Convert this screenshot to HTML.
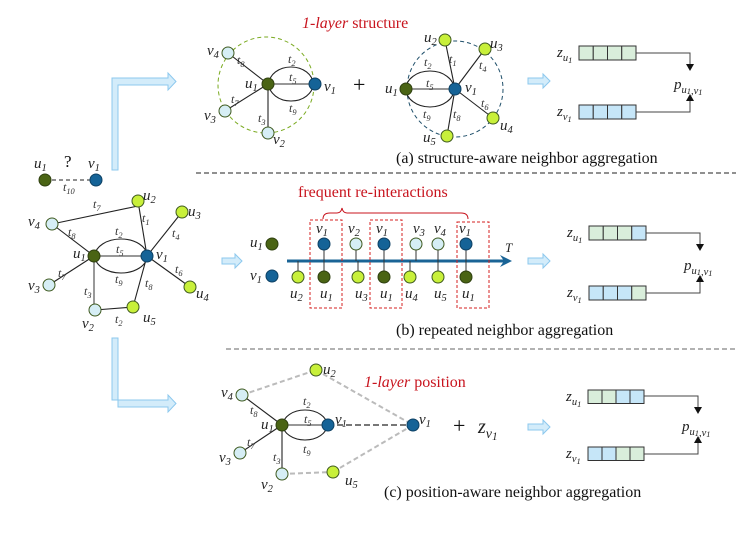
<!DOCTYPE html>
<html><head><meta charset="utf-8"><style>
html,body{margin:0;padding:0;background:#fff}
svg{display:block}
.l{font-family:"Liberation Serif",serif;font-style:italic;font-size:15px;fill:#222}
.t{font-family:"Liberation Serif",serif;font-style:italic;font-size:12px;fill:#333}
.s{font-size:70%}
.cap{font-family:"Liberation Serif",serif;font-size:16px;fill:#111}
.red{font-family:"Liberation Serif",serif;font-size:16px;fill:#c8141e}
.dg{fill:#4a6414;stroke:#2f4010;stroke-width:1}
.bl{fill:#156397;stroke:#0d4063;stroke-width:1}
.lb{fill:#d6eef5;stroke:#3f5a20;stroke-width:1}
.lm{fill:#c8f03a;stroke:#3f5a20;stroke-width:1}
.e{stroke:#222;stroke-width:1.1;fill:none}
.g{stroke:#777;stroke-width:1.5;fill:none}
.gd{stroke:#bbb;stroke-width:2;stroke-dasharray:5,3;fill:none}
.arr{fill:#d3ecfa;stroke:#8cc8ee;stroke-width:1}
.cg{fill:#d9eedb;stroke:#333;stroke-width:1}
.cb{fill:#c6e6f8;stroke:#333;stroke-width:1}
</style></head><body>
<svg width="743" height="541" viewBox="0 0 743 541" xmlns="http://www.w3.org/2000/svg">
<!-- L arrows -->
<path class="arr" d="M112,170 L112,78 L168,78 L168,73 L176,81.5 L168,90 L168,85 L118,85 L118,170 Z"/>
<path class="arr" d="M112,345 L112,407 L168,407 L168,402 L176,410.5 L168,419 L168,414 L118,414 L118,345 Z" transform="translate(0,-7)"/>
<!-- small arrows -->
<path class="arr" d="M528,78 L543,78 L543,74 L550,81 L543,88 L543,84 L528,84 Z"/>
<path class="arr" d="M528,258 L543,258 L543,254 L550,261 L543,268 L543,264 L528,264 Z"/>
<path class="arr" d="M528,424 L543,424 L543,420 L550,427 L543,434 L543,430 L528,430 Z"/>
<path class="arr" d="M222,258 L235,258 L235,254 L242,261 L235,268 L235,264 L222,264 Z"/>
<!-- separators -->
<line x1="196" y1="173" x2="736" y2="173" stroke="#222" stroke-dasharray="5,3"/>
<line x1="226" y1="349" x2="736" y2="349" stroke="#666" stroke-dasharray="5,3"/>

<!-- left query -->
<line x1="45" y1="180" x2="96" y2="180" stroke="#222" stroke-dasharray="4,3"/>
<circle class="dg" cx="45" cy="180" r="6"/><circle class="bl" cx="96" cy="180" r="6"/>
<text class="l" x="34" y="168">u<tspan class="s" dy="3">1</tspan></text>
<text class="l" x="88" y="168">ν<tspan class="s" dy="3">1</tspan></text>
<text class="cap" x="64" y="167" style="font-size:17px">?</text>
<text class="t" x="63" y="191">t<tspan class="s" dy="3">10</tspan></text>

<!-- left main graph -->
<line class="e" x1="52" y1="224" x2="138" y2="206"/>
<line class="e" x1="138" y1="201" x2="147" y2="256"/>
<line class="e" x1="182" y1="212" x2="147" y2="256"/>
<line class="e" x1="190" y1="287" x2="147" y2="256"/>
<line class="e" x1="133" y1="307" x2="147" y2="256"/>
<line class="e" x1="52" y1="224" x2="94" y2="256"/>
<line class="e" x1="49" y1="285" x2="94" y2="256"/>
<line class="g" x1="94" y1="256" x2="94" y2="310"/>
<line class="e" x1="95" y1="310" x2="133" y2="307"/>
<line class="g" x1="94" y1="256" x2="147" y2="256"/>
<ellipse class="e" cx="121" cy="256" rx="26" ry="17"/>
<circle class="lm" cx="138" cy="201" r="6"/><circle class="lm" cx="182" cy="212" r="6"/>
<circle class="lb" cx="52" cy="224" r="6"/><circle class="dg" cx="94" cy="256" r="6"/>
<circle class="bl" cx="147" cy="256" r="6"/><circle class="lb" cx="49" cy="285" r="6"/>
<circle class="lm" cx="190" cy="287" r="6"/><circle class="lb" cx="95" cy="310" r="6"/>
<circle class="lm" cx="133" cy="307" r="6"/>
<text class="l" x="143" y="200">u<tspan class="s" dy="3">2</tspan></text>
<text class="l" x="188" y="216">u<tspan class="s" dy="3">3</tspan></text>
<text class="l" x="28" y="226">ν<tspan class="s" dy="3">4</tspan></text>
<text class="l" x="73" y="258">u<tspan class="s" dy="3">1</tspan></text>
<text class="l" x="156" y="259">ν<tspan class="s" dy="3">1</tspan></text>
<text class="l" x="28" y="290">ν<tspan class="s" dy="3">3</tspan></text>
<text class="l" x="196" y="298">u<tspan class="s" dy="3">4</tspan></text>
<text class="l" x="82" y="328">ν<tspan class="s" dy="3">2</tspan></text>
<text class="l" x="143" y="322">u<tspan class="s" dy="3">5</tspan></text>
<text class="t" x="93" y="208">t<tspan class="s" dy="3">7</tspan></text>
<text class="t" x="68" y="236">t<tspan class="s" dy="3">8</tspan></text>
<text class="t" x="142" y="222">t<tspan class="s" dy="3">1</tspan></text>
<text class="t" x="172" y="237">t<tspan class="s" dy="3">4</tspan></text>
<text class="t" x="115" y="235">t<tspan class="s" dy="3">2</tspan></text>
<text class="t" x="116" y="253">t<tspan class="s" dy="3">5</tspan></text>
<text class="t" x="115" y="283">t<tspan class="s" dy="3">9</tspan></text>
<text class="t" x="58" y="277">t<tspan class="s" dy="3">7</tspan></text>
<text class="t" x="175" y="273">t<tspan class="s" dy="3">6</tspan></text>
<text class="t" x="145" y="287">t<tspan class="s" dy="3">8</tspan></text>
<text class="t" x="84" y="295">t<tspan class="s" dy="3">3</tspan></text>
<text class="t" x="115" y="323">t<tspan class="s" dy="3">2</tspan></text>

<!-- (a) structure -->
<text class="red" x="302" y="28"><tspan font-style="italic">1-layer</tspan> structure</text>
<circle cx="266" cy="85" r="48" fill="none" stroke="#7aaa20" stroke-dasharray="4,3"/>
<line class="e" x1="228" y1="53" x2="268" y2="84"/>
<line class="e" x1="225" y1="111" x2="268" y2="84"/>
<line class="e" x1="268" y1="84" x2="268" y2="133"/>
<line class="g" x1="268" y1="84" x2="315" y2="84"/>
<ellipse class="e" cx="291" cy="84" rx="22" ry="17"/>
<circle class="lb" cx="228" cy="53" r="6"/><circle class="lb" cx="225" cy="111" r="6"/>
<circle class="lb" cx="268" cy="133" r="6"/><circle class="dg" cx="268" cy="84" r="6"/>
<circle class="bl" cx="315" cy="84" r="6"/>
<text class="l" x="207" y="55">ν<tspan class="s" dy="3">4</tspan></text>
<text class="l" x="245" y="88">u<tspan class="s" dy="3">1</tspan></text>
<text class="l" x="324" y="91">ν<tspan class="s" dy="3">1</tspan></text>
<text class="l" x="204" y="120">ν<tspan class="s" dy="3">3</tspan></text>
<text class="l" x="273" y="144">ν<tspan class="s" dy="3">2</tspan></text>
<text class="t" x="237" y="64">t<tspan class="s" dy="3">8</tspan></text>
<text class="t" x="231" y="103">t<tspan class="s" dy="3">7</tspan></text>
<text class="t" x="258" y="122">t<tspan class="s" dy="3">3</tspan></text>
<text class="t" x="288" y="63">t<tspan class="s" dy="3">2</tspan></text>
<text class="t" x="289" y="81">t<tspan class="s" dy="3">5</tspan></text>
<text class="t" x="289" y="112">t<tspan class="s" dy="3">9</tspan></text>
<text class="cap" x="353" y="92" style="font-size:22px">+</text>

<circle cx="455" cy="89" r="48" fill="none" stroke="#1f4f6a" stroke-dasharray="4,3"/>
<line class="e" x1="445" y1="40" x2="455" y2="89"/>
<line class="e" x1="485" y1="49" x2="455" y2="89"/>
<line class="e" x1="493" y1="118" x2="455" y2="89"/>
<line class="e" x1="447" y1="136" x2="455" y2="89"/>
<line class="g" x1="406" y1="89" x2="455" y2="89"/>
<ellipse class="e" cx="430" cy="89" rx="24" ry="18"/>
<circle class="lm" cx="445" cy="40" r="6"/><circle class="lm" cx="485" cy="49" r="6"/>
<circle class="lm" cx="493" cy="118" r="6"/><circle class="lm" cx="447" cy="136" r="6"/>
<circle class="dg" cx="406" cy="89" r="6"/><circle class="bl" cx="455" cy="89" r="6"/>
<text class="l" x="424" y="42">u<tspan class="s" dy="3">2</tspan></text>
<text class="l" x="490" y="48">u<tspan class="s" dy="3">3</tspan></text>
<text class="l" x="385" y="93">u<tspan class="s" dy="3">1</tspan></text>
<text class="l" x="465" y="92">ν<tspan class="s" dy="3">1</tspan></text>
<text class="l" x="500" y="130">u<tspan class="s" dy="3">4</tspan></text>
<text class="l" x="423" y="142">u<tspan class="s" dy="3">5</tspan></text>
<text class="t" x="449" y="63">t<tspan class="s" dy="3">1</tspan></text>
<text class="t" x="479" y="69">t<tspan class="s" dy="3">4</tspan></text>
<text class="t" x="424" y="66">t<tspan class="s" dy="3">2</tspan></text>
<text class="t" x="426" y="87">t<tspan class="s" dy="3">5</tspan></text>
<text class="t" x="423" y="118">t<tspan class="s" dy="3">9</tspan></text>
<text class="t" x="481" y="107">t<tspan class="s" dy="3">6</tspan></text>
<text class="t" x="453" y="118">t<tspan class="s" dy="3">8</tspan></text>

<!-- embeddings (a) -->
<text class="l" x="557" y="57">z<tspan class="s" dy="4">u<tspan dy="2" font-size="80%">1</tspan></tspan></text>
<rect class="cg" x="579" y="46" width="14.25" height="14"/><rect class="cg" x="593.25" y="46" width="14.25" height="14"/><rect class="cg" x="607.5" y="46" width="14.25" height="14"/><rect class="cg" x="621.75" y="46" width="14.25" height="14"/>
<text class="l" x="557" y="116">z<tspan class="s" dy="4">ν<tspan dy="2" font-size="80%">1</tspan></tspan></text>
<rect class="cb" x="579" y="105" width="14.25" height="14"/><rect class="cb" x="593.25" y="105" width="14.25" height="14"/><rect class="cb" x="607.5" y="105" width="14.25" height="14"/><rect class="cb" x="621.75" y="105" width="14.25" height="14"/>
<path d="M636,53 H690 V64" stroke="#444" fill="none"/><path d="M686,64 L694,64 L690,71 Z" fill="#111"/>
<path d="M636,112 H690 V101" stroke="#444" fill="none"/><path d="M686,101 L694,101 L690,94 Z" fill="#111"/>
<text class="l" x="674" y="89">p<tspan class="s" dy="4">u<tspan font-size="80%" dy="1">1</tspan>,ν<tspan font-size="80%" dy="1">1</tspan></tspan></text>
<text class="cap" x="396" y="163">(a) structure-aware neighbor aggregation</text>

<!-- (b) timeline -->
<text class="red" x="298" y="197">frequent re-interactions</text>
<path d="M323,219 Q323,213 330,213 L337,213 Q341,213 342,208 Q343,213 347,213 L461,213 Q468,213 468,219" stroke="#c8141e" fill="none"/>
<line x1="287" y1="261" x2="505" y2="261" stroke="#1a6496" stroke-width="3"/>
<path d="M500,255 L512,261 L500,267 L504,261 Z" fill="#1a6496"/>
<text class="l" x="505" y="252" style="font-size:13px">T</text>
<g stroke="#333" stroke-width="1">
<line x1="298" y1="261" x2="298" y2="277"/><line x1="324" y1="244" x2="324" y2="277"/><line x1="356" y1="244" x2="356" y2="261"/><line x1="358" y1="261" x2="358" y2="277"/><line x1="384" y1="244" x2="384" y2="277"/><line x1="416" y1="244" x2="416" y2="261"/><line x1="410" y1="261" x2="410" y2="277"/><line x1="438" y1="244" x2="438" y2="277"/><line x1="466" y1="244" x2="466" y2="277"/>
</g>
<circle class="dg" cx="272" cy="244" r="6"/><circle class="bl" cx="272" cy="276" r="6"/>
<text class="l" x="250" y="247">u<tspan class="s" dy="3">1</tspan></text>
<text class="l" x="250" y="280">ν<tspan class="s" dy="3">1</tspan></text>
<circle class="bl" cx="324" cy="244" r="6"/><circle class="lb" cx="356" cy="244" r="6"/><circle class="bl" cx="384" cy="244" r="6"/><circle class="lb" cx="416" cy="244" r="6"/><circle class="lb" cx="438" cy="244" r="6"/><circle class="bl" cx="466" cy="244" r="6"/>
<circle class="lm" cx="298" cy="277" r="6"/><circle class="dg" cx="324" cy="277" r="6"/><circle class="lm" cx="358" cy="277" r="6"/><circle class="dg" cx="384" cy="277" r="6"/><circle class="lm" cx="410" cy="277" r="6"/><circle class="lm" cx="438" cy="277" r="6"/><circle class="dg" cx="466" cy="277" r="6"/>
<text class="l" x="316" y="233">ν<tspan class="s" dy="3">1</tspan></text>
<text class="l" x="348" y="233">ν<tspan class="s" dy="3">2</tspan></text>
<text class="l" x="376" y="233">ν<tspan class="s" dy="3">1</tspan></text>
<text class="l" x="413" y="233">ν<tspan class="s" dy="3">3</tspan></text>
<text class="l" x="434" y="233">ν<tspan class="s" dy="3">4</tspan></text>
<text class="l" x="459" y="233">ν<tspan class="s" dy="3">1</tspan></text>
<text class="l" x="290" y="298">u<tspan class="s" dy="3">2</tspan></text>
<text class="l" x="320" y="298">u<tspan class="s" dy="3">1</tspan></text>
<text class="l" x="355" y="298">u<tspan class="s" dy="3">3</tspan></text>
<text class="l" x="380" y="298">u<tspan class="s" dy="3">1</tspan></text>
<text class="l" x="405" y="298">u<tspan class="s" dy="3">4</tspan></text>
<text class="l" x="434" y="298">u<tspan class="s" dy="3">5</tspan></text>
<text class="l" x="462" y="298">u<tspan class="s" dy="3">1</tspan></text>
<g fill="none" stroke="#d42020" stroke-dasharray="3,2">
<rect x="310" y="220" width="32" height="88"/><rect x="370" y="220" width="32" height="88"/><rect x="457" y="222" width="32" height="86"/>
</g>
<!-- embeddings (b) -->
<text class="l" x="567" y="237">z<tspan class="s" dy="4">u<tspan dy="2" font-size="80%">1</tspan></tspan></text>
<rect class="cg" x="589" y="226" width="14.25" height="14"/><rect class="cg" x="603.25" y="226" width="14.25" height="14"/><rect class="cg" x="617.5" y="226" width="14.25" height="14"/><rect class="cb" x="631.75" y="226" width="14.25" height="14"/>
<text class="l" x="567" y="297">z<tspan class="s" dy="4">ν<tspan dy="2" font-size="80%">1</tspan></tspan></text>
<rect class="cb" x="589" y="286" width="14.25" height="14"/><rect class="cb" x="603.25" y="286" width="14.25" height="14"/><rect class="cb" x="617.5" y="286" width="14.25" height="14"/><rect class="cg" x="631.75" y="286" width="14.25" height="14"/>
<path d="M646,233 H700 V244" stroke="#444" fill="none"/><path d="M696,244 L704,244 L700,251 Z" fill="#111"/>
<path d="M646,293 H700 V282" stroke="#444" fill="none"/><path d="M696,282 L704,282 L700,275 Z" fill="#111"/>
<text class="l" x="684" y="270">p<tspan class="s" dy="4">u<tspan font-size="80%" dy="1">1</tspan>,ν<tspan font-size="80%" dy="1">1</tspan></tspan></text>
<text class="cap" x="396" y="335">(b) repeated neighbor aggregation</text>

<!-- (c) position -->
<text class="red" x="364" y="387"><tspan font-style="italic">1-layer</tspan> position</text>
<line class="gd" x1="242" y1="395" x2="316" y2="370"/>
<line class="gd" x1="316" y1="370" x2="413" y2="425"/>
<line class="gd" x1="282" y1="474" x2="333" y2="472"/>
<line class="gd" x1="333" y1="472" x2="413" y2="425"/>
<line x1="328" y1="425" x2="413" y2="425" stroke="#777" stroke-width="2" stroke-dasharray="6,3"/>
<line class="e" x1="242" y1="395" x2="282" y2="425"/>
<line class="e" x1="240" y1="453" x2="282" y2="425"/>
<line class="e" x1="282" y1="425" x2="282" y2="474"/>
<line class="g" x1="282" y1="425" x2="328" y2="425"/>
<ellipse class="e" cx="305" cy="425" rx="22" ry="15"/>
<circle class="lm" cx="316" cy="370" r="6"/><circle class="lb" cx="242" cy="395" r="6"/>
<circle class="dg" cx="282" cy="425" r="6"/><circle class="bl" cx="328" cy="425" r="6"/>
<circle class="lb" cx="240" cy="453" r="6"/><circle class="lb" cx="282" cy="474" r="6"/>
<circle class="lm" cx="333" cy="472" r="6"/><circle class="bl" cx="413" cy="425" r="6"/>
<text class="l" x="323" y="374">u<tspan class="s" dy="3">2</tspan></text>
<text class="l" x="221" y="397">ν<tspan class="s" dy="3">4</tspan></text>
<text class="l" x="261" y="429">u<tspan class="s" dy="3">1</tspan></text>
<text class="l" x="335" y="424">ν<tspan class="s" dy="3">1</tspan></text>
<text class="l" x="419" y="424">ν<tspan class="s" dy="3">1</tspan></text>
<text class="l" x="219" y="462">ν<tspan class="s" dy="3">3</tspan></text>
<text class="l" x="261" y="489">ν<tspan class="s" dy="3">2</tspan></text>
<text class="l" x="345" y="485">u<tspan class="s" dy="3">5</tspan></text>
<text class="t" x="250" y="414">t<tspan class="s" dy="3">8</tspan></text>
<text class="t" x="247" y="446">t<tspan class="s" dy="3">7</tspan></text>
<text class="t" x="273" y="461">t<tspan class="s" dy="3">3</tspan></text>
<text class="t" x="303" y="405">t<tspan class="s" dy="3">2</tspan></text>
<text class="t" x="304" y="423">t<tspan class="s" dy="3">5</tspan></text>
<text class="t" x="303" y="453">t<tspan class="s" dy="3">9</tspan></text>
<text class="cap" x="453" y="433" style="font-size:22px">+</text>
<text class="l" x="478" y="433" style="font-size:20px">z<tspan class="s" dy="5">ν<tspan dy="2" font-size="80%">1</tspan></tspan></text>
<!-- embeddings (c) -->
<text class="l" x="566" y="401">z<tspan class="s" dy="4">u<tspan dy="2" font-size="80%">1</tspan></tspan></text>
<rect class="cg" x="588" y="390" width="14" height="13.5"/><rect class="cg" x="602" y="390" width="14" height="13.5"/><rect class="cb" x="616" y="390" width="14" height="13.5"/><rect class="cb" x="630" y="390" width="14" height="13.5"/>
<text class="l" x="566" y="458">z<tspan class="s" dy="4">ν<tspan dy="2" font-size="80%">1</tspan></tspan></text>
<rect class="cb" x="588" y="447" width="14" height="13.5"/><rect class="cb" x="602" y="447" width="14" height="13.5"/><rect class="cg" x="616" y="447" width="14" height="13.5"/><rect class="cg" x="630" y="447" width="14" height="13.5"/>
<path d="M644,396 H698 V407" stroke="#444" fill="none"/><path d="M694,407 L702,407 L698,414 Z" fill="#111"/>
<path d="M644,454 H698 V443" stroke="#444" fill="none"/><path d="M694,443 L702,443 L698,436 Z" fill="#111"/>
<text class="l" x="682" y="431">p<tspan class="s" dy="4">u<tspan font-size="80%" dy="1">1</tspan>,ν<tspan font-size="80%" dy="1">1</tspan></tspan></text>
<text class="cap" x="384" y="497">(c) position-aware neighbor aggregation</text>
</svg>
</body></html>
